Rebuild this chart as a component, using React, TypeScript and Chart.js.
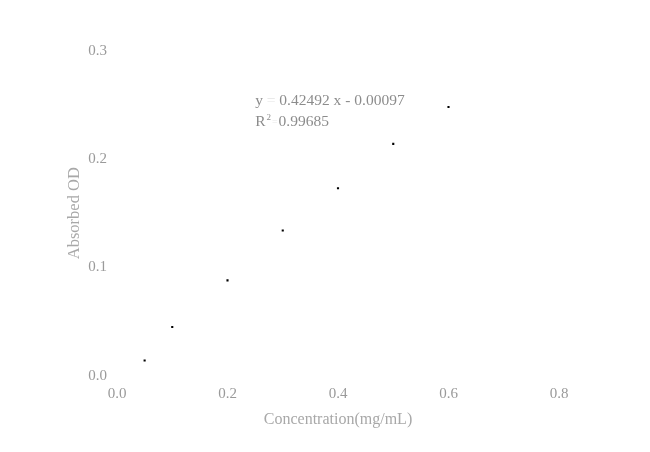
import React, { useEffect, useRef } from 'react';
import { Chart, registerables } from 'chart.js';

Chart.register(...registerables);

// standard curve readings
const concentration = [0.05, 0.1, 0.2, 0.3, 0.4, 0.5, 0.6];
const absorbance = [0.014, 0.045, 0.088, 0.134, 0.173, 0.214, 0.248];

const xTitle = 'Concentration(mg/mL)';
const yTitle = 'Absorbed OD';
const slope = '0.42492';
const intercept = '0.00097';
const rSquared = '0.99685';

const FONT = "'Liberation Serif', 'Times New Roman', serif";
const TICK_COLOR = '#9a9a9a';
const TITLE_COLOR = '#a8a8a8';

// draws the fit equation in the upper middle of the plot
const equationPlugin = {
  id: 'equation',
  afterDraw(chart: Chart) {
    const { ctx, scales } = chart;
    const x0 = scales.x.getPixelForValue(0.25);
    const y1 = scales.y.getPixelForValue(0.2536);
    const y2 = scales.y.getPixelForValue(0.234);
    ctx.save();
    ctx.textBaseline = 'middle';
    ctx.textAlign = 'left';

    const piece = (text: string, x: number, y: number, color: string, size = 15.5) => {
      ctx.font = `${size}px ${FONT}`;
      ctx.fillStyle = color;
      ctx.fillText(text, x, y);
      return x + ctx.measureText(text).width;
    };

    let x = piece('y ', x0, y1, '#8c8c8c');
    x = piece('= ', x, y1, '#e4e4e4');
    piece(`${slope} x - ${intercept}`, x, y1, '#8c8c8c');

    x = piece('R', x0, y2, '#8c8c8c');
    x = piece('2', x + 1, y2 - 5, '#8c8c8c', 9);
    x = piece('=', x + 1, y2, '#e8e8e8', 10);
    piece(rSquared, x + 1, y2, '#8c8c8c');
    ctx.restore();
  }
};

export default function App() {
  const canvasRef = useRef<HTMLCanvasElement>(null);

  useEffect(() => {
    if (!canvasRef.current) return;
    const chart = new Chart(canvasRef.current, {
      type: 'scatter',
      data: {
        datasets: [{
          label: 'Absorbance',
          data: concentration.map((c, i) => ({ x: c, y: absorbance[i] })),
          pointStyle: 'rect',
          pointRadius: 1.5,
          backgroundColor: '#000',
          borderWidth: 0
        }]
      },
      options: {
        animation: false,
        responsive: false,
        devicePixelRatio: 1,
        layout: { padding: { left: 0, top: 50.7, right: 91, bottom: 0 } },
        plugins: {
          legend: { display: false },
          tooltip: { enabled: false }
        },
        scales: {
          x: {
            type: 'linear',
            min: 0,
            max: 0.8,
            grid: { display: false, drawTicks: false },
            border: { display: false },
            ticks: {
              stepSize: 0.2,
              padding: 9,
              color: TICK_COLOR,
              font: { family: FONT, size: 15 },
              callback: (v) => Number(v).toFixed(1)
            },
            title: {
              display: true,
              text: xTitle,
              color: TITLE_COLOR,
              font: { family: FONT, size: 16 },
              padding: { top: 0, bottom: 22.4 }
            },
            afterFit: (scale) => { scale.height = 76.3; }
          },
          y: {
            type: 'linear',
            min: 0,
            max: 0.3,
            grid: { display: false, drawTicks: false },
            border: { display: false },
            ticks: {
              stepSize: 0.1,
              padding: 10,
              color: TICK_COLOR,
              font: { family: FONT, size: 15 },
              callback: (v) => Number(v).toFixed(1)
            },
            title: {
              display: true,
              text: yTitle,
              color: TITLE_COLOR,
              font: { family: FONT, size: 16.5 },
              padding: { top: 65.2, bottom: 0 }
            },
            afterFit: (scale) => { scale.width = 117; }
          }
        }
      },
      plugins: [equationPlugin]
    });
    return () => chart.destroy();
  }, []);

  return (
    <div style={{ position: 'absolute', left: 0, top: 0, width: 650, height: 452, background: '#fff' }}>
      <canvas ref={canvasRef} width={650} height={452} />
    </div>
  );
}
